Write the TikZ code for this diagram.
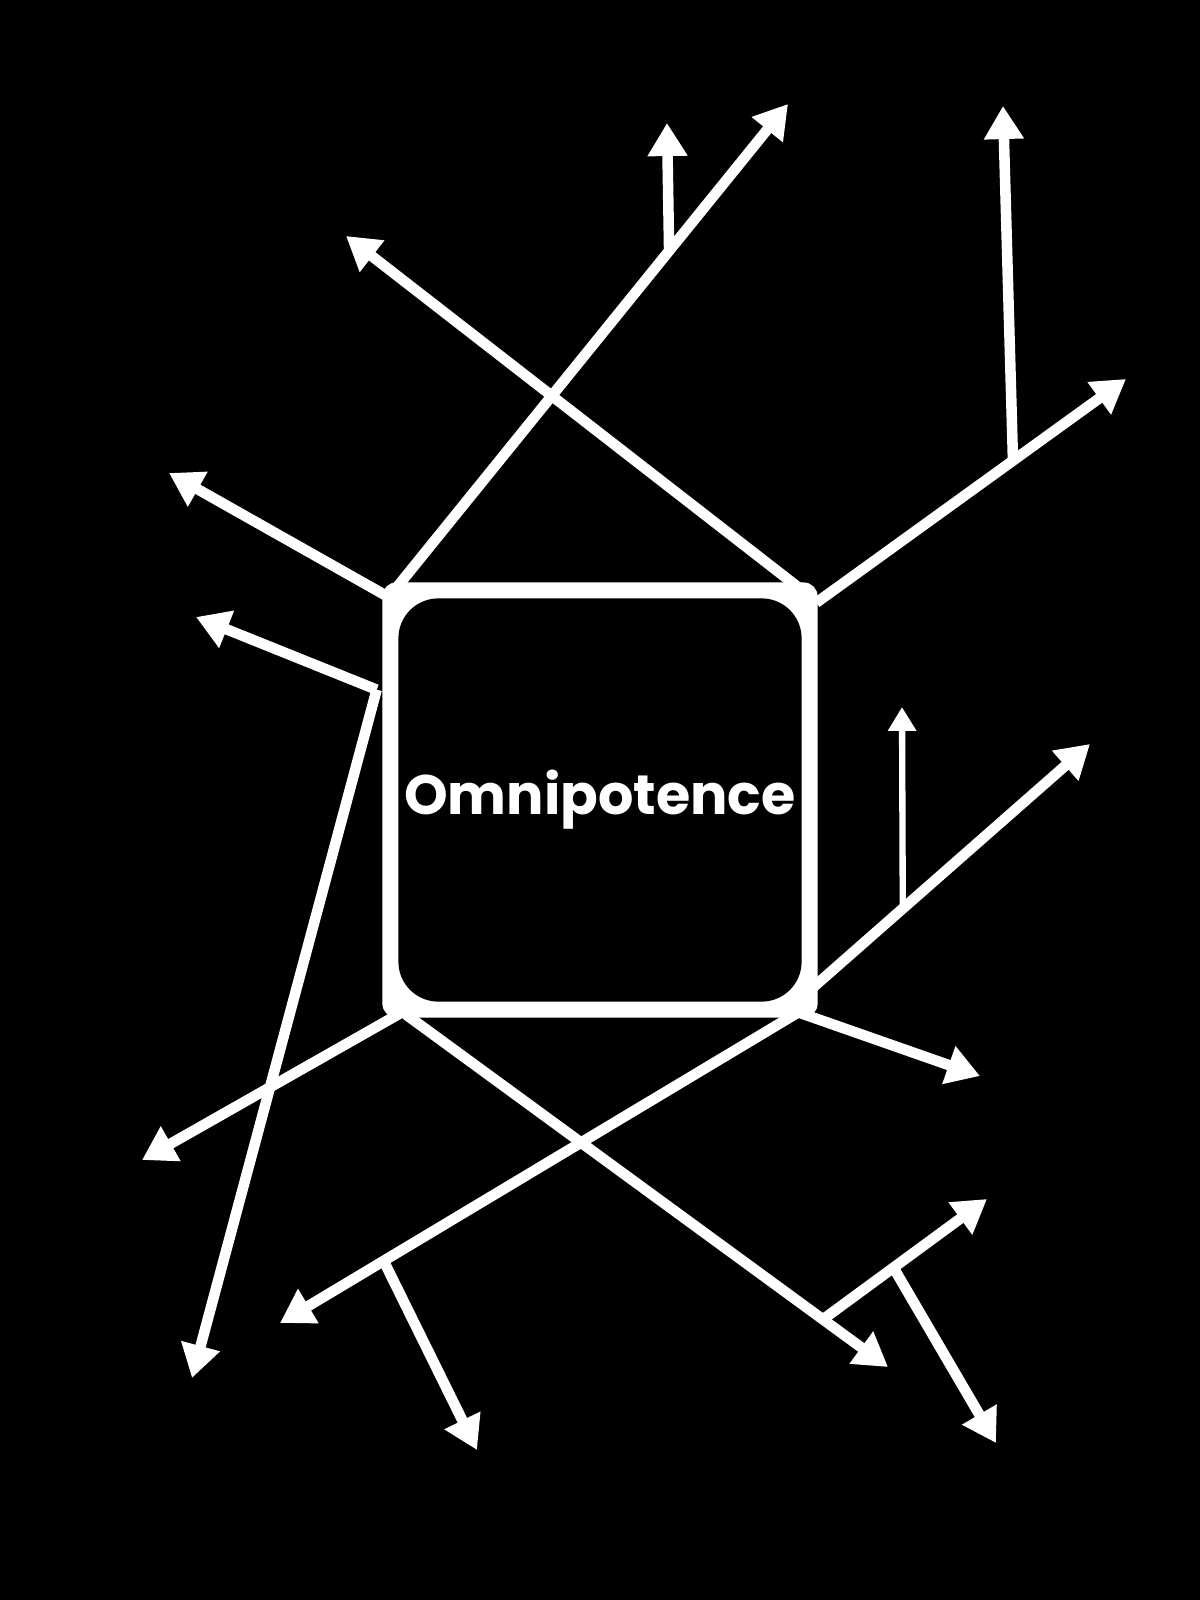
\documentclass[tikz,border=0pt]{standalone}
\usepackage{fontspec}
\newfontfamily\boxfont{Poppins}
\usetikzlibrary{arrows.meta}

\begin{document}
\begin{tikzpicture}[x=0.01cm,y=-0.01cm,>={Triangle[length=9.4pt,width=10.8pt]},
    link/.style={->,white,line width=3pt},
    twig/.style={-{Triangle[length=6.8pt,width=7.7pt]},white,line width=1.8pt}]
    \fill[black] (0,0) rectangle (1200,1600);
    \node[fill=white,rounded corners=4pt,minimum width=4.35cm,minimum height=4.35cm,inner sep=0pt,
      text=white,font=\boxfont\bfseries\fontsize{15.8pt}{20pt}\selectfont,
      path picture={\fill[black,rounded corners=0.4cm] ([shift={(16,16)}]path picture bounding box.north west)
        rectangle ([shift={(-16,-16)}]path picture bounding box.south east);}] (omni) at (600,800) {Omnipotence};

    \coordinate (nwa) at ([shift={(10,12)}]omni.north west);
    \coordinate (nwb) at ([shift={(8,16)}]omni.north west);
    \coordinate (nea) at ([shift={(-17,8)}]omni.north east);
    \coordinate (neb) at ([shift={(-2,21)}]omni.north east);
    \coordinate (wa) at ([shift={(-5,108)}]omni.north west);
    \coordinate (swa) at ([shift={(22,-7)}]omni.south west);
    \coordinate (swb) at ([shift={(24,-4)}]omni.south west);
    \coordinate (sea) at ([shift={(-12,-25)}]omni.south east);
    \coordinate (seb) at ([shift={(-20,-6)}]omni.south east);

    \coordinate (up1) at (788,104);
    \coordinate (up2) at (667,123);
    \coordinate (nw1) at (346,236);
    \coordinate (ne1) at (1126,379);
    \coordinate (up3) at (1003,106);
    \coordinate (w1) at (169,473);
    \coordinate (w2) at (196,617);
    \coordinate (sw1) at (192,1378);
    \coordinate (sw2) at (142,1160);
    \coordinate (se1) at (888,1367);
    \coordinate (se2) at (987,1199);
    \coordinate (se3) at (996,1443);
    \coordinate (ne2) at (1090,744);
    \coordinate (up4) at (902,707);
    \coordinate (sw3) at (280,1323);
    \coordinate (s1) at (477,1450);
    \coordinate (e1) at (980,1076);

    \draw[link] (nwa) -- coordinate[pos=0.70] (a1) (up1);
    \draw[link] (a1) -- (up2);
    \draw[link] (nea) -- (nw1);
    \draw[link] (neb) -- coordinate[pos=0.635] (c1) (ne1);
    \draw[link] (c1) -- (up3);
    \draw[link] (nwb) -- (w1);
    \draw[link] (wa) -- (w2);
    \draw[link] (wa) -- (sw1);
    \draw[link] (swa) -- (sw2);
    \draw[link] (swb) -- coordinate[pos=0.865] (h1) (se1);
    \draw[link] (h1) -- coordinate[pos=0.43] (m1) (se2);
    \draw[link] (m1) -- (se3);
    \draw[link] (sea) -- coordinate[pos=0.34] (i1) (ne2);
    \draw[twig] (i1) -- (up4);
    \draw[link] (seb) -- coordinate[pos=0.8] (l1) (sw3);
    \draw[link] (l1) -- (s1);
    \draw[link] (seb) -- (e1);
\end{tikzpicture}
\end{document}
